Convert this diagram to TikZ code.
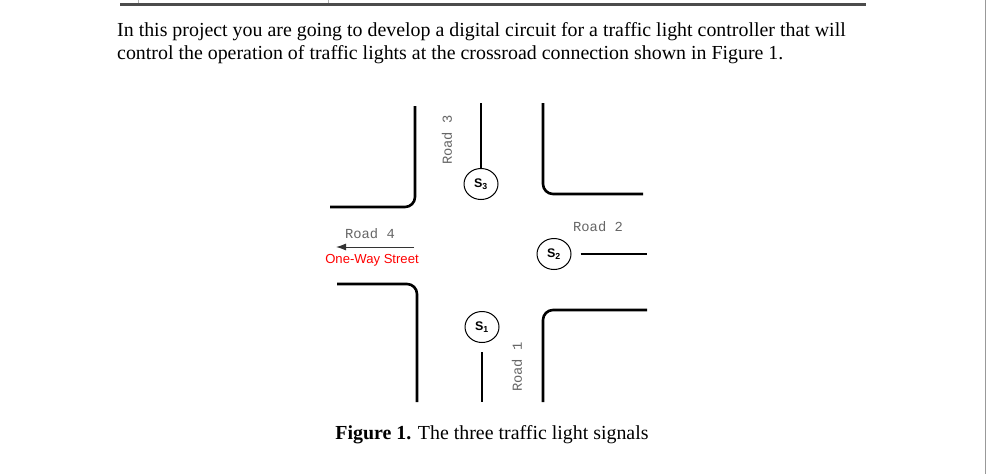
\documentclass[tikz,border=0pt]{standalone}
\usepackage{fontspec}
\usetikzlibrary{shapes.geometric,arrows.meta}
\setmainfont{Liberation Serif}
\newfontfamily\monof{Liberation Mono}
\newfontfamily\sansf{Liberation Sans}
\begin{document}
\begin{tikzpicture}[x=1pt,y=-1pt,
  road/.style={line width=2.6pt,rounded corners=10pt},
  sig/.style={draw,line width=1pt,ellipse,minimum width=34pt,minimum height=31pt,inner sep=0pt,font=\sansf\bfseries\fontsize{12.5}{13}\selectfont},
  lbl/.style={font=\monof\fontsize{13.8}{15}\selectfont,text=black!60}]
\useasboundingbox (0,0) rectangle (991,474);
\fill[white] (0,0) rectangle (991,474);
\draw[black!70,line width=2.5pt] (120,4.5) -- (866,4.5);
\draw[black!30,line width=0.6pt] (138,0) -- (138,3) (328,0) -- (328,3);
\draw[black!40,line width=0.8pt] (985,0) -- (985,474);
\node[anchor=west,font=\fontsize{19.9}{23}\selectfont,align=left,inner sep=0pt] (para) at (117,43)
 {In this project you are going to develop a digital circuit for a traffic light controller that will\\control the operation of traffic lights at the crossroad connection shown in Figure 1.};
% corners
\draw[road] (415,106) -- (415,207) -- (330,207);
\draw[road] (543,103) -- (543,194) -- (643,194);
\draw[road] (337,284) -- (417,284) -- (417,402);
\draw[road] (543,402) -- (543,310) -- (647,310);
% signals
\node[sig] (s3) at (481,184) {S\textsubscript{3}};
\node[sig] (s2) at (554,254) {S\textsubscript{2}};
\node[sig] (s1) at (482,327) {S\textsubscript{1}};
\coordinate (t3) at (481,103);
\coordinate (t2) at (647,254);
\coordinate (t1) at (482,402);
\draw[line width=2.6pt] (s3) -- (t3);
\draw[line width=2.6pt] ([xshift=9pt]s2.east) -- (t2);
\draw[line width=2.6pt] ([yshift=-9pt]s1.south) -- (t1);
% labels
\node[lbl,rotate=90] (r3) at (447,140) {Road 3};
\node[lbl] (r2) at (598,227) {Road 2};
\node[lbl,rotate=90] (r1) at (517,367) {Road 1};
\node[lbl] (r4) at (370,234) {Road 4};
\coordinate (a1) at (414,247);
\coordinate (a2) at (336,247);
\draw[black!80,line width=1pt,-{Latex[length=10pt,width=7pt]}] (a1) -- (a2);
\node[font=\sansf\fontsize{13.1}{14}\selectfont,text=red] (ow) at (372,260) {One-Way Street};
\node[font=\fontsize{19.9}{22}\selectfont] (cap) at (492,435) {\textbf{Figure 1.} The three traffic light signals};
\end{tikzpicture}
\end{document}
